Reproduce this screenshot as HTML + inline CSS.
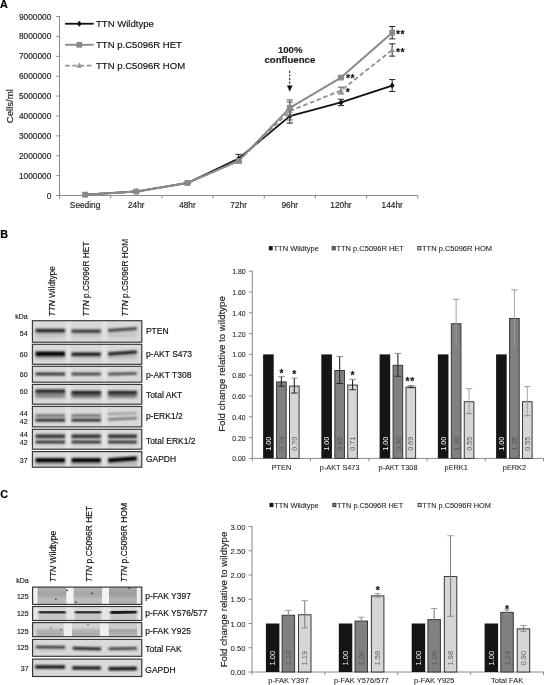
<!DOCTYPE html>
<html><head><meta charset="utf-8"><title>Figure</title>
<style>
html,body{margin:0;padding:0;background:#fff;}
body{width:544px;height:685px;overflow:hidden;}
svg{display:block;font-family:'Liberation Sans', Arial, sans-serif;}
</style></head><body>
<svg width="544" height="685" viewBox="0 0 544 685">
<rect x="0" y="0" width="544" height="685" fill="#fff"/>
<text x="0.00" y="7.80" font-size="10.8" text-anchor="start" fill="#000" stroke="#000" stroke-width="0.16" font-weight="bold">A</text>
<text x="0.30" y="237.60" font-size="10.8" text-anchor="start" fill="#000" stroke="#000" stroke-width="0.16" font-weight="bold">B</text>
<text x="0.30" y="498.40" font-size="10.8" text-anchor="start" fill="#000" stroke="#000" stroke-width="0.16" font-weight="bold">C</text>
<line x1="59.50" y1="16.08" x2="59.50" y2="195.50" stroke="#8a8a8a" stroke-width="1"/>
<line x1="59.50" y1="195.50" x2="417.76" y2="195.50" stroke="#8a8a8a" stroke-width="1"/>
<line x1="56.30" y1="195.50" x2="59.50" y2="195.50" stroke="#8a8a8a" stroke-width="1"/>
<text x="51.40" y="198.50" font-size="8.35" text-anchor="end" fill="#222" stroke="#222" stroke-width="0.16">0</text>
<line x1="56.30" y1="175.62" x2="59.50" y2="175.62" stroke="#8a8a8a" stroke-width="1"/>
<text x="51.40" y="178.62" font-size="8.35" text-anchor="end" fill="#222" stroke="#222" stroke-width="0.16">1000000</text>
<line x1="56.30" y1="155.74" x2="59.50" y2="155.74" stroke="#8a8a8a" stroke-width="1"/>
<text x="51.40" y="158.74" font-size="8.35" text-anchor="end" fill="#222" stroke="#222" stroke-width="0.16">2000000</text>
<line x1="56.30" y1="135.86" x2="59.50" y2="135.86" stroke="#8a8a8a" stroke-width="1"/>
<text x="51.40" y="138.86" font-size="8.35" text-anchor="end" fill="#222" stroke="#222" stroke-width="0.16">3000000</text>
<line x1="56.30" y1="115.98" x2="59.50" y2="115.98" stroke="#8a8a8a" stroke-width="1"/>
<text x="51.40" y="118.98" font-size="8.35" text-anchor="end" fill="#222" stroke="#222" stroke-width="0.16">4000000</text>
<line x1="56.30" y1="96.10" x2="59.50" y2="96.10" stroke="#8a8a8a" stroke-width="1"/>
<text x="51.40" y="99.10" font-size="8.35" text-anchor="end" fill="#222" stroke="#222" stroke-width="0.16">5000000</text>
<line x1="56.30" y1="76.22" x2="59.50" y2="76.22" stroke="#8a8a8a" stroke-width="1"/>
<text x="51.40" y="79.22" font-size="8.35" text-anchor="end" fill="#222" stroke="#222" stroke-width="0.16">6000000</text>
<line x1="56.30" y1="56.34" x2="59.50" y2="56.34" stroke="#8a8a8a" stroke-width="1"/>
<text x="51.40" y="59.34" font-size="8.35" text-anchor="end" fill="#222" stroke="#222" stroke-width="0.16">7000000</text>
<line x1="56.30" y1="36.46" x2="59.50" y2="36.46" stroke="#8a8a8a" stroke-width="1"/>
<text x="51.40" y="39.46" font-size="8.35" text-anchor="end" fill="#222" stroke="#222" stroke-width="0.16">8000000</text>
<line x1="56.30" y1="16.58" x2="59.50" y2="16.58" stroke="#8a8a8a" stroke-width="1"/>
<text x="51.40" y="19.58" font-size="8.35" text-anchor="end" fill="#222" stroke="#222" stroke-width="0.16">9000000</text>
<line x1="59.50" y1="195.50" x2="59.50" y2="198.50" stroke="#8a8a8a" stroke-width="1"/>
<line x1="110.68" y1="195.50" x2="110.68" y2="198.50" stroke="#8a8a8a" stroke-width="1"/>
<line x1="161.86" y1="195.50" x2="161.86" y2="198.50" stroke="#8a8a8a" stroke-width="1"/>
<line x1="213.04" y1="195.50" x2="213.04" y2="198.50" stroke="#8a8a8a" stroke-width="1"/>
<line x1="264.22" y1="195.50" x2="264.22" y2="198.50" stroke="#8a8a8a" stroke-width="1"/>
<line x1="315.40" y1="195.50" x2="315.40" y2="198.50" stroke="#8a8a8a" stroke-width="1"/>
<line x1="366.58" y1="195.50" x2="366.58" y2="198.50" stroke="#8a8a8a" stroke-width="1"/>
<line x1="417.76" y1="195.50" x2="417.76" y2="198.50" stroke="#8a8a8a" stroke-width="1"/>
<text x="85.09" y="208.40" font-size="8.3" text-anchor="middle" fill="#222" stroke="#222" stroke-width="0.16">Seeding</text>
<text x="136.27" y="208.40" font-size="8.3" text-anchor="middle" fill="#222" stroke="#222" stroke-width="0.16">24hr</text>
<text x="187.45" y="208.40" font-size="8.3" text-anchor="middle" fill="#222" stroke="#222" stroke-width="0.16">48hr</text>
<text x="238.63" y="208.40" font-size="8.3" text-anchor="middle" fill="#222" stroke="#222" stroke-width="0.16">72hr</text>
<text x="289.81" y="208.40" font-size="8.3" text-anchor="middle" fill="#222" stroke="#222" stroke-width="0.16">96hr</text>
<text x="340.99" y="208.40" font-size="8.3" text-anchor="middle" fill="#222" stroke="#222" stroke-width="0.16">120hr</text>
<text x="392.17" y="208.40" font-size="8.3" text-anchor="middle" fill="#222" stroke="#222" stroke-width="0.16">144hr</text>
<text x="13.20" y="106.20" font-size="9.6" text-anchor="middle" fill="#222" stroke="#222" stroke-width="0.16" transform="rotate(-90 13.20 106.20)">Cells/ml</text>
<polyline points="85.09,194.70 136.27,191.52 187.45,182.98 238.63,158.52 289.81,116.18 340.99,102.46 392.17,85.56" fill="none" stroke="#111" stroke-width="1.8" stroke-linejoin="round"/>
<polygon points="85.09,191.70 87.59,194.70 85.09,197.70 82.59,194.70" fill="#111"/>
<line x1="136.27" y1="190.93" x2="136.27" y2="192.12" stroke="#222" stroke-width="1"/>
<line x1="133.17" y1="190.93" x2="139.37" y2="190.93" stroke="#222" stroke-width="1"/>
<line x1="133.17" y1="192.12" x2="139.37" y2="192.12" stroke="#222" stroke-width="1"/>
<polygon points="136.27,188.52 138.77,191.52 136.27,194.52 133.77,191.52" fill="#111"/>
<line x1="187.45" y1="182.38" x2="187.45" y2="183.57" stroke="#222" stroke-width="1"/>
<line x1="184.35" y1="182.38" x2="190.55" y2="182.38" stroke="#222" stroke-width="1"/>
<line x1="184.35" y1="183.57" x2="190.55" y2="183.57" stroke="#222" stroke-width="1"/>
<polygon points="187.45,179.98 189.95,182.98 187.45,185.98 184.95,182.98" fill="#111"/>
<line x1="238.63" y1="154.35" x2="238.63" y2="162.70" stroke="#222" stroke-width="1"/>
<line x1="235.53" y1="154.35" x2="241.73" y2="154.35" stroke="#222" stroke-width="1"/>
<line x1="235.53" y1="162.70" x2="241.73" y2="162.70" stroke="#222" stroke-width="1"/>
<polygon points="238.63,155.52 241.13,158.52 238.63,161.52 236.13,158.52" fill="#111"/>
<line x1="289.81" y1="109.22" x2="289.81" y2="123.14" stroke="#222" stroke-width="1"/>
<line x1="286.71" y1="109.22" x2="292.91" y2="109.22" stroke="#222" stroke-width="1"/>
<line x1="286.71" y1="123.14" x2="292.91" y2="123.14" stroke="#222" stroke-width="1"/>
<polygon points="289.81,113.18 292.31,116.18 289.81,119.18 287.31,116.18" fill="#111"/>
<line x1="340.99" y1="99.28" x2="340.99" y2="105.64" stroke="#222" stroke-width="1"/>
<line x1="337.89" y1="99.28" x2="344.09" y2="99.28" stroke="#222" stroke-width="1"/>
<line x1="337.89" y1="105.64" x2="344.09" y2="105.64" stroke="#222" stroke-width="1"/>
<polygon points="340.99,99.46 343.49,102.46 340.99,105.46 338.49,102.46" fill="#111"/>
<line x1="392.17" y1="79.60" x2="392.17" y2="91.53" stroke="#222" stroke-width="1"/>
<line x1="389.07" y1="79.60" x2="395.27" y2="79.60" stroke="#222" stroke-width="1"/>
<line x1="389.07" y1="91.53" x2="395.27" y2="91.53" stroke="#222" stroke-width="1"/>
<polygon points="392.17,82.56 394.67,85.56 392.17,88.56 389.67,85.56" fill="#111"/>
<polyline points="85.09,194.70 136.27,191.52 187.45,182.98 238.63,160.91 289.81,111.01 340.99,90.53 392.17,49.98" fill="none" stroke="#939393" stroke-width="1.9" stroke-linejoin="round" stroke-dasharray="4.6,2.6"/>
<polygon points="85.09,191.58 87.89,196.78 82.29,196.78" fill="#939393"/>
<line x1="136.27" y1="190.93" x2="136.27" y2="192.12" stroke="#555" stroke-width="1"/>
<line x1="133.17" y1="190.93" x2="139.37" y2="190.93" stroke="#555" stroke-width="1"/>
<line x1="133.17" y1="192.12" x2="139.37" y2="192.12" stroke="#555" stroke-width="1"/>
<polygon points="136.27,188.40 139.07,193.60 133.47,193.60" fill="#939393"/>
<line x1="187.45" y1="182.38" x2="187.45" y2="183.57" stroke="#555" stroke-width="1"/>
<line x1="184.35" y1="182.38" x2="190.55" y2="182.38" stroke="#555" stroke-width="1"/>
<line x1="184.35" y1="183.57" x2="190.55" y2="183.57" stroke="#555" stroke-width="1"/>
<polygon points="187.45,179.86 190.25,185.06 184.65,185.06" fill="#939393"/>
<line x1="238.63" y1="159.91" x2="238.63" y2="161.90" stroke="#555" stroke-width="1"/>
<line x1="235.53" y1="159.91" x2="241.73" y2="159.91" stroke="#555" stroke-width="1"/>
<line x1="235.53" y1="161.90" x2="241.73" y2="161.90" stroke="#555" stroke-width="1"/>
<polygon points="238.63,157.79 241.43,162.99 235.83,162.99" fill="#939393"/>
<line x1="289.81" y1="102.06" x2="289.81" y2="119.96" stroke="#555" stroke-width="1"/>
<line x1="286.71" y1="102.06" x2="292.91" y2="102.06" stroke="#555" stroke-width="1"/>
<line x1="286.71" y1="119.96" x2="292.91" y2="119.96" stroke="#555" stroke-width="1"/>
<polygon points="289.81,107.89 292.61,113.09 287.01,113.09" fill="#939393"/>
<line x1="340.99" y1="87.15" x2="340.99" y2="93.91" stroke="#555" stroke-width="1"/>
<line x1="337.89" y1="87.15" x2="344.09" y2="87.15" stroke="#555" stroke-width="1"/>
<line x1="337.89" y1="93.91" x2="344.09" y2="93.91" stroke="#555" stroke-width="1"/>
<polygon points="340.99,87.41 343.79,92.61 338.19,92.61" fill="#939393"/>
<line x1="392.17" y1="43.82" x2="392.17" y2="56.14" stroke="#222" stroke-width="1"/>
<line x1="389.07" y1="43.82" x2="395.27" y2="43.82" stroke="#222" stroke-width="1"/>
<line x1="389.07" y1="56.14" x2="395.27" y2="56.14" stroke="#222" stroke-width="1"/>
<polygon points="392.17,46.86 394.97,52.06 389.37,52.06" fill="#939393"/>
<polyline points="85.09,194.70 136.27,191.52 187.45,182.98 238.63,160.91 289.81,107.83 340.99,77.61 392.17,32.68" fill="none" stroke="#8a8a8a" stroke-width="2.0" stroke-linejoin="round"/>
<rect x="82.19" y="191.80" width="5.80" height="5.80" fill="#8a8a8a"/>
<line x1="136.27" y1="190.93" x2="136.27" y2="192.12" stroke="#666" stroke-width="1"/>
<line x1="133.17" y1="190.93" x2="139.37" y2="190.93" stroke="#666" stroke-width="1"/>
<line x1="133.17" y1="192.12" x2="139.37" y2="192.12" stroke="#666" stroke-width="1"/>
<rect x="133.37" y="188.62" width="5.80" height="5.80" fill="#8a8a8a"/>
<line x1="187.45" y1="182.38" x2="187.45" y2="183.57" stroke="#666" stroke-width="1"/>
<line x1="184.35" y1="182.38" x2="190.55" y2="182.38" stroke="#666" stroke-width="1"/>
<line x1="184.35" y1="183.57" x2="190.55" y2="183.57" stroke="#666" stroke-width="1"/>
<rect x="184.55" y="180.08" width="5.80" height="5.80" fill="#8a8a8a"/>
<line x1="238.63" y1="159.91" x2="238.63" y2="161.90" stroke="#666" stroke-width="1"/>
<line x1="235.53" y1="159.91" x2="241.73" y2="159.91" stroke="#666" stroke-width="1"/>
<line x1="235.53" y1="161.90" x2="241.73" y2="161.90" stroke="#666" stroke-width="1"/>
<rect x="235.73" y="158.01" width="5.80" height="5.80" fill="#8a8a8a"/>
<line x1="289.81" y1="99.88" x2="289.81" y2="115.78" stroke="#666" stroke-width="1"/>
<line x1="286.71" y1="99.88" x2="292.91" y2="99.88" stroke="#666" stroke-width="1"/>
<line x1="286.71" y1="115.78" x2="292.91" y2="115.78" stroke="#666" stroke-width="1"/>
<rect x="286.91" y="104.93" width="5.80" height="5.80" fill="#8a8a8a"/>
<line x1="340.99" y1="76.62" x2="340.99" y2="78.61" stroke="#666" stroke-width="1"/>
<line x1="337.89" y1="76.62" x2="344.09" y2="76.62" stroke="#666" stroke-width="1"/>
<line x1="337.89" y1="78.61" x2="344.09" y2="78.61" stroke="#666" stroke-width="1"/>
<rect x="338.09" y="74.71" width="5.80" height="5.80" fill="#8a8a8a"/>
<line x1="392.17" y1="26.52" x2="392.17" y2="38.85" stroke="#222" stroke-width="1"/>
<line x1="389.07" y1="26.52" x2="395.27" y2="26.52" stroke="#222" stroke-width="1"/>
<line x1="389.07" y1="38.85" x2="395.27" y2="38.85" stroke="#222" stroke-width="1"/>
<rect x="389.27" y="29.78" width="5.80" height="5.80" fill="#8a8a8a"/>
<text x="395.90" y="38.00" font-size="10.3" text-anchor="start" fill="#111" stroke="#111" stroke-width="0.16" font-weight="bold" letter-spacing="0.6">**</text>
<text x="395.90" y="56.20" font-size="10.3" text-anchor="start" fill="#111" stroke="#111" stroke-width="0.16" font-weight="bold" letter-spacing="0.6">**</text>
<text x="346.00" y="82.30" font-size="10.3" text-anchor="start" fill="#111" stroke="#111" stroke-width="0.16" font-weight="bold" letter-spacing="0.6">**</text>
<text x="345.70" y="95.90" font-size="10.3" text-anchor="start" fill="#111" stroke="#111" stroke-width="0.16" font-weight="bold" letter-spacing="0.6">*</text>
<line x1="65.10" y1="23.75" x2="93.70" y2="23.75" stroke="#111" stroke-width="1.8"/>
<polygon points="79.30,20.75 81.80,23.75 79.30,26.75 76.80,23.75" fill="#111"/>
<line x1="65.10" y1="44.80" x2="93.70" y2="44.80" stroke="#8a8a8a" stroke-width="1.9"/>
<rect x="76.40" y="41.90" width="5.80" height="5.80" fill="#8a8a8a"/>
<line x1="65.10" y1="65.60" x2="93.70" y2="65.60" stroke="#939393" stroke-width="1.9" stroke-dasharray="4.6,2.6"/>
<polygon points="79.30,62.48 82.10,67.68 76.50,67.68" fill="#939393"/>
<text x="96.00" y="27.20" font-size="9.55" text-anchor="start" fill="#111" stroke="#111" stroke-width="0.16">TTN Wildtype</text>
<text x="96.00" y="48.30" font-size="9.55" text-anchor="start" fill="#111" stroke="#111" stroke-width="0.16">TTN p.C5096R HET</text>
<text x="96.00" y="69.10" font-size="9.55" text-anchor="start" fill="#111" stroke="#111" stroke-width="0.16">TTN p.C5096R HOM</text>
<text x="290.20" y="52.70" font-size="9.65" text-anchor="middle" fill="#222" stroke="#222" stroke-width="0.16" font-weight="bold">100%</text>
<text x="289.90" y="62.70" font-size="9.65" text-anchor="middle" fill="#222" stroke="#222" stroke-width="0.16" font-weight="bold">confluence</text>
<line x1="289.70" y1="70.80" x2="289.70" y2="86.00" stroke="#222" stroke-width="1.1" stroke-dasharray="2.2,1.4"/>
<polygon points="286.9,85.6 292.6,85.6 289.75,91.8" fill="#111"/>
<defs><filter id="bl3" filterUnits="userSpaceOnUse" x="0" y="0" width="544" height="685"><feGaussianBlur stdDeviation="0.3"/></filter><filter id="bl4" filterUnits="userSpaceOnUse" x="0" y="0" width="544" height="685"><feGaussianBlur stdDeviation="0.4"/></filter><filter id="bl5" filterUnits="userSpaceOnUse" x="0" y="0" width="544" height="685"><feGaussianBlur stdDeviation="0.5"/></filter><filter id="bl6" filterUnits="userSpaceOnUse" x="0" y="0" width="544" height="685"><feGaussianBlur stdDeviation="0.6"/></filter><filter id="bl7" filterUnits="userSpaceOnUse" x="0" y="0" width="544" height="685"><feGaussianBlur stdDeviation="0.7"/></filter><filter id="bl8" filterUnits="userSpaceOnUse" x="0" y="0" width="544" height="685"><feGaussianBlur stdDeviation="0.8"/></filter><filter id="bl9" filterUnits="userSpaceOnUse" x="0" y="0" width="544" height="685"><feGaussianBlur stdDeviation="0.9"/></filter><filter id="bl10" filterUnits="userSpaceOnUse" x="0" y="0" width="544" height="685"><feGaussianBlur stdDeviation="1.0"/></filter><filter id="bl12" filterUnits="userSpaceOnUse" x="0" y="0" width="544" height="685"><feGaussianBlur stdDeviation="1.2"/></filter><filter id="bl15" filterUnits="userSpaceOnUse" x="0" y="0" width="544" height="685"><feGaussianBlur stdDeviation="1.5"/></filter><filter id="bl20" filterUnits="userSpaceOnUse" x="0" y="0" width="544" height="685"><feGaussianBlur stdDeviation="2.0"/></filter><filter id="bh3" filterUnits="userSpaceOnUse" x="0" y="0" width="544" height="685"><feGaussianBlur stdDeviation="1.1 0.3"/></filter><filter id="bh4" filterUnits="userSpaceOnUse" x="0" y="0" width="544" height="685"><feGaussianBlur stdDeviation="1.1 0.4"/></filter><filter id="bh5" filterUnits="userSpaceOnUse" x="0" y="0" width="544" height="685"><feGaussianBlur stdDeviation="1.1 0.5"/></filter><filter id="bh6" filterUnits="userSpaceOnUse" x="0" y="0" width="544" height="685"><feGaussianBlur stdDeviation="1.1 0.6"/></filter><filter id="bh7" filterUnits="userSpaceOnUse" x="0" y="0" width="544" height="685"><feGaussianBlur stdDeviation="1.1 0.7"/></filter><filter id="bh8" filterUnits="userSpaceOnUse" x="0" y="0" width="544" height="685"><feGaussianBlur stdDeviation="1.1 0.8"/></filter><filter id="bh9" filterUnits="userSpaceOnUse" x="0" y="0" width="544" height="685"><feGaussianBlur stdDeviation="1.1 0.9"/></filter><filter id="bh10" filterUnits="userSpaceOnUse" x="0" y="0" width="544" height="685"><feGaussianBlur stdDeviation="1.1 1.0"/></filter><filter id="bh12" filterUnits="userSpaceOnUse" x="0" y="0" width="544" height="685"><feGaussianBlur stdDeviation="1.2 1.2"/></filter><filter id="bh15" filterUnits="userSpaceOnUse" x="0" y="0" width="544" height="685"><feGaussianBlur stdDeviation="1.5 1.5"/></filter><filter id="bh20" filterUnits="userSpaceOnUse" x="0" y="0" width="544" height="685"><feGaussianBlur stdDeviation="2.0 2.0"/></filter></defs>
<rect x="32.40" y="320.70" width="109.40" height="21.50" fill="#d9d9d9"/>
<rect x="66.00" y="320.70" width="5.00" height="21.50" fill="#e2e2e2"/>
<rect x="102.00" y="320.70" width="5.00" height="21.50" fill="#e2e2e2"/>
<line x1="35.60" y1="334.50" x2="65.00" y2="334.50" stroke="#b8b8b8" stroke-width="5" stroke-linecap="butt" opacity="1" filter="url(#bh20)"/>
<line x1="71.60" y1="334.50" x2="100.80" y2="334.50" stroke="#c0c0c0" stroke-width="5" stroke-linecap="butt" opacity="1" filter="url(#bh20)"/>
<line x1="108.20" y1="334.50" x2="136.80" y2="334.50" stroke="#bebebe" stroke-width="5" stroke-linecap="butt" opacity="1" filter="url(#bh20)"/>
<line x1="35.60" y1="330.60" x2="65.00" y2="330.60" stroke="#1e1e1e" stroke-width="3.4" stroke-linecap="butt" opacity="1" filter="url(#bh9)"/>
<line x1="71.60" y1="331.20" x2="100.80" y2="331.20" stroke="#3a3a3a" stroke-width="3.4" stroke-linecap="butt" opacity="1" filter="url(#bh9)"/>
<line x1="108.20" y1="330.50" x2="136.80" y2="328.50" stroke="#3e3e3e" stroke-width="2.8" stroke-linecap="butt" opacity="1" filter="url(#bh9)"/>
<rect x="32.40" y="320.70" width="109.40" height="21.50" fill="none" stroke="#333333" stroke-width="1.15"/>
<rect x="32.40" y="344.30" width="109.40" height="20.00" fill="#d9d9d9"/>
<rect x="66.00" y="344.30" width="5.00" height="20.00" fill="#e2e2e2"/>
<rect x="102.00" y="344.30" width="5.00" height="20.00" fill="#e2e2e2"/>
<line x1="35.60" y1="357.00" x2="65.00" y2="357.00" stroke="#a8a8a8" stroke-width="4" stroke-linecap="butt" opacity="1" filter="url(#bh15)"/>
<line x1="71.60" y1="357.00" x2="100.80" y2="357.00" stroke="#bcbcbc" stroke-width="4" stroke-linecap="butt" opacity="1" filter="url(#bh15)"/>
<line x1="108.20" y1="357.00" x2="136.80" y2="357.00" stroke="#bcbcbc" stroke-width="4" stroke-linecap="butt" opacity="1" filter="url(#bh15)"/>
<line x1="35.60" y1="353.80" x2="65.00" y2="353.80" stroke="#060606" stroke-width="4.6" stroke-linecap="butt" opacity="1" filter="url(#bh8)"/>
<line x1="71.60" y1="354.20" x2="100.80" y2="354.20" stroke="#1e1e1e" stroke-width="3.6" stroke-linecap="butt" opacity="1" filter="url(#bh8)"/>
<line x1="108.20" y1="354.00" x2="136.80" y2="351.90" stroke="#242424" stroke-width="3.5" stroke-linecap="butt" opacity="1" filter="url(#bh8)"/>
<rect x="32.40" y="344.30" width="109.40" height="20.00" fill="none" stroke="#333333" stroke-width="1.15"/>
<rect x="32.40" y="366.30" width="109.40" height="15.90" fill="#d9d9d9"/>
<rect x="66.00" y="366.30" width="5.00" height="15.90" fill="#e2e2e2"/>
<rect x="102.00" y="366.30" width="5.00" height="15.90" fill="#e2e2e2"/>
<line x1="35.60" y1="374.00" x2="65.00" y2="374.00" stroke="#282828" stroke-width="2.8" stroke-linecap="butt" opacity="1" filter="url(#bh8)"/>
<line x1="71.60" y1="374.00" x2="100.80" y2="374.00" stroke="#404040" stroke-width="2.8" stroke-linecap="butt" opacity="1" filter="url(#bh8)"/>
<line x1="108.20" y1="374.10" x2="136.80" y2="373.50" stroke="#424242" stroke-width="2.6" stroke-linecap="butt" opacity="1" filter="url(#bh8)"/>
<rect x="32.40" y="366.30" width="109.40" height="15.90" fill="none" stroke="#333333" stroke-width="1.15"/>
<rect x="32.40" y="384.40" width="109.40" height="19.80" fill="#d9d9d9"/>
<rect x="66.00" y="384.40" width="5.00" height="19.80" fill="#e2e2e2"/>
<rect x="102.00" y="384.40" width="5.00" height="19.80" fill="#e2e2e2"/>
<line x1="35.60" y1="395.00" x2="65.00" y2="395.00" stroke="#808080" stroke-width="5.5" stroke-linecap="butt" opacity="1" filter="url(#bh15)"/>
<line x1="71.60" y1="395.00" x2="100.80" y2="395.00" stroke="#6a6a6a" stroke-width="5.5" stroke-linecap="butt" opacity="1" filter="url(#bh15)"/>
<line x1="108.20" y1="395.00" x2="136.80" y2="395.00" stroke="#707070" stroke-width="5.5" stroke-linecap="butt" opacity="1" filter="url(#bh15)"/>
<line x1="35.60" y1="391.20" x2="65.00" y2="391.20" stroke="#1c1c1c" stroke-width="3.4" stroke-linecap="butt" opacity="1" filter="url(#bh9)"/>
<line x1="71.60" y1="392.60" x2="100.80" y2="392.60" stroke="#222222" stroke-width="3.4" stroke-linecap="butt" opacity="1" filter="url(#bh9)"/>
<line x1="108.20" y1="392.60" x2="136.80" y2="392.60" stroke="#262626" stroke-width="3.4" stroke-linecap="butt" opacity="1" filter="url(#bh9)"/>
<rect x="32.40" y="384.40" width="109.40" height="19.80" fill="none" stroke="#333333" stroke-width="1.15"/>
<rect x="32.40" y="406.40" width="109.40" height="20.50" fill="#d9d9d9"/>
<rect x="66.00" y="406.40" width="5.00" height="20.50" fill="#e2e2e2"/>
<rect x="102.00" y="406.40" width="5.00" height="20.50" fill="#e2e2e2"/>
<line x1="35.60" y1="415.60" x2="65.00" y2="415.60" stroke="#5a5a5a" stroke-width="2.2" stroke-linecap="butt" opacity="1" filter="url(#bh8)"/>
<line x1="71.60" y1="415.60" x2="100.80" y2="415.60" stroke="#5a5a5a" stroke-width="2.2" stroke-linecap="butt" opacity="1" filter="url(#bh8)"/>
<line x1="35.60" y1="420.10" x2="65.00" y2="420.10" stroke="#1a1a1a" stroke-width="2.8" stroke-linecap="butt" opacity="1" filter="url(#bh8)"/>
<line x1="71.60" y1="420.10" x2="100.80" y2="420.10" stroke="#222222" stroke-width="2.8" stroke-linecap="butt" opacity="1" filter="url(#bh8)"/>
<line x1="108.20" y1="414.00" x2="136.80" y2="413.20" stroke="#8e8e8e" stroke-width="1.8" stroke-linecap="butt" opacity="1" filter="url(#bh8)"/>
<line x1="108.20" y1="419.30" x2="136.80" y2="418.20" stroke="#6a6a6a" stroke-width="2.2" stroke-linecap="butt" opacity="1" filter="url(#bh8)"/>
<rect x="32.40" y="406.40" width="109.40" height="20.50" fill="none" stroke="#333333" stroke-width="1.15"/>
<rect x="32.40" y="429.30" width="109.40" height="19.90" fill="#d9d9d9"/>
<rect x="66.00" y="429.30" width="5.00" height="19.90" fill="#e2e2e2"/>
<rect x="102.00" y="429.30" width="5.00" height="19.90" fill="#e2e2e2"/>
<line x1="35.60" y1="436.30" x2="65.00" y2="436.30" stroke="#333333" stroke-width="3.8" stroke-linecap="butt" opacity="1" filter="url(#bh9)"/>
<line x1="71.60" y1="436.30" x2="100.80" y2="436.30" stroke="#303030" stroke-width="3.8" stroke-linecap="butt" opacity="1" filter="url(#bh9)"/>
<line x1="108.20" y1="436.30" x2="136.80" y2="436.30" stroke="#2e2e2e" stroke-width="3.8" stroke-linecap="butt" opacity="1" filter="url(#bh9)"/>
<line x1="35.60" y1="442.00" x2="65.00" y2="442.00" stroke="#333333" stroke-width="3.0" stroke-linecap="butt" opacity="1" filter="url(#bh8)"/>
<line x1="71.60" y1="442.00" x2="100.80" y2="442.00" stroke="#333333" stroke-width="3.0" stroke-linecap="butt" opacity="1" filter="url(#bh8)"/>
<line x1="108.20" y1="442.00" x2="136.80" y2="442.00" stroke="#303030" stroke-width="3.0" stroke-linecap="butt" opacity="1" filter="url(#bh8)"/>
<rect x="32.40" y="429.30" width="109.40" height="19.90" fill="none" stroke="#333333" stroke-width="1.15"/>
<rect x="32.40" y="451.60" width="109.40" height="15.60" fill="#d9d9d9"/>
<rect x="66.00" y="451.60" width="5.00" height="15.60" fill="#e0e0e0"/>
<rect x="102.00" y="451.60" width="5.00" height="15.60" fill="#e0e0e0"/>
<line x1="35.60" y1="463.50" x2="65.00" y2="463.50" stroke="#a0a0a0" stroke-width="3.0" stroke-linecap="butt" opacity="1" filter="url(#bh15)"/>
<line x1="71.60" y1="463.50" x2="100.80" y2="463.50" stroke="#a0a0a0" stroke-width="3.0" stroke-linecap="butt" opacity="1" filter="url(#bh15)"/>
<line x1="108.20" y1="463.50" x2="136.80" y2="463.50" stroke="#a8a8a8" stroke-width="3.0" stroke-linecap="butt" opacity="1" filter="url(#bh15)"/>
<line x1="35.60" y1="460.20" x2="65.00" y2="460.20" stroke="#060606" stroke-width="4.3" stroke-linecap="butt" opacity="1" filter="url(#bh8)"/>
<line x1="71.60" y1="460.20" x2="100.80" y2="460.20" stroke="#060606" stroke-width="4.3" stroke-linecap="butt" opacity="1" filter="url(#bh8)"/>
<line x1="108.20" y1="460.40" x2="136.80" y2="458.40" stroke="#040404" stroke-width="4.3" stroke-linecap="butt" opacity="1" filter="url(#bh8)"/>
<rect x="32.40" y="451.60" width="109.40" height="15.60" fill="none" stroke="#333333" stroke-width="1.15"/>
<text x="27.60" y="318.80" font-size="7.0" text-anchor="end" fill="#222" stroke="#222" stroke-width="0.16">kDa</text>
<text x="27.60" y="335.70" font-size="7.0" text-anchor="end" fill="#222" stroke="#222" stroke-width="0.16">54</text>
<text x="27.60" y="356.90" font-size="7.0" text-anchor="end" fill="#222" stroke="#222" stroke-width="0.16">60</text>
<text x="27.60" y="376.80" font-size="7.0" text-anchor="end" fill="#222" stroke="#222" stroke-width="0.16">60</text>
<text x="27.60" y="394.30" font-size="7.0" text-anchor="end" fill="#222" stroke="#222" stroke-width="0.16">60</text>
<text x="27.60" y="415.90" font-size="7.0" text-anchor="end" fill="#222" stroke="#222" stroke-width="0.16">44</text>
<text x="27.60" y="424.40" font-size="7.0" text-anchor="end" fill="#222" stroke="#222" stroke-width="0.16">42</text>
<text x="27.60" y="437.10" font-size="7.0" text-anchor="end" fill="#222" stroke="#222" stroke-width="0.16">44</text>
<text x="27.60" y="445.00" font-size="7.0" text-anchor="end" fill="#222" stroke="#222" stroke-width="0.16">42</text>
<text x="27.60" y="463.00" font-size="7.0" text-anchor="end" fill="#222" stroke="#222" stroke-width="0.16">37</text>
<text x="145.90" y="333.80" font-size="8.5" text-anchor="start" fill="#111" stroke="#111" stroke-width="0.16">PTEN</text>
<text x="145.90" y="356.90" font-size="8.5" text-anchor="start" fill="#111" stroke="#111" stroke-width="0.16">p-AKT S473</text>
<text x="145.90" y="378.20" font-size="8.5" text-anchor="start" fill="#111" stroke="#111" stroke-width="0.16">p-AKT T308</text>
<text x="145.90" y="397.60" font-size="8.5" text-anchor="start" fill="#111" stroke="#111" stroke-width="0.16">Total AKT</text>
<text x="145.90" y="419.00" font-size="8.5" text-anchor="start" fill="#111" stroke="#111" stroke-width="0.16">p-ERK1/2</text>
<text x="145.90" y="443.60" font-size="8.5" text-anchor="start" fill="#111" stroke="#111" stroke-width="0.16">Total ERK1/2</text>
<text x="145.90" y="461.70" font-size="8.5" text-anchor="start" fill="#111" stroke="#111" stroke-width="0.16">GAPDH</text>
<text x="55.20" y="316.40" font-size="8.3" fill="#111" stroke="#111" stroke-width="0.16" transform="rotate(-90 55.20 316.40)"><tspan font-style="italic">TTN</tspan> Wildtype</text>
<text x="88.70" y="316.40" font-size="8.3" fill="#111" stroke="#111" stroke-width="0.16" transform="rotate(-90 88.70 316.40)"><tspan font-style="italic">TTN</tspan> p.C5096R HET</text>
<text x="127.80" y="316.40" font-size="8.3" fill="#111" stroke="#111" stroke-width="0.16" transform="rotate(-90 127.80 316.40)"><tspan font-style="italic">TTN</tspan> p.C5096R HOM</text>
<rect x="32.60" y="587.10" width="109.20" height="17.30" fill="#b6b6b6"/>
<defs><linearGradient id="g225" x1="0" y1="0" x2="0" y2="1"><stop offset="0" stop-color="#b0b0b0"/><stop offset="0.42" stop-color="#a2a2a2"/><stop offset="0.7" stop-color="#bababa"/><stop offset="1" stop-color="#bababa"/></linearGradient></defs>
<rect x="37.50" y="587.10" width="28.90" height="17.30" fill="url(#g225)"/>
<defs><linearGradient id="g227" x1="0" y1="0" x2="0" y2="1"><stop offset="0" stop-color="#b2b2b2"/><stop offset="0.42" stop-color="#a6a6a6"/><stop offset="0.7" stop-color="#bcbcbc"/><stop offset="1" stop-color="#bcbcbc"/></linearGradient></defs>
<rect x="73.60" y="587.10" width="28.50" height="17.30" fill="url(#g227)"/>
<defs><linearGradient id="g229" x1="0" y1="0" x2="0" y2="1"><stop offset="0" stop-color="#aaaaaa"/><stop offset="0.42" stop-color="#9c9c9c"/><stop offset="0.7" stop-color="#b2b2b2"/><stop offset="1" stop-color="#b2b2b2"/></linearGradient></defs>
<rect x="109.00" y="587.10" width="27.80" height="17.30" fill="url(#g229)"/>
<rect x="32.80" y="587.10" width="4.70" height="17.30" fill="#f0f0f0"/>
<rect x="66.40" y="587.10" width="7.20" height="17.30" fill="#f3f3f3"/>
<rect x="102.10" y="587.10" width="6.90" height="17.30" fill="#f3f3f3"/>
<rect x="136.80" y="587.10" width="3.90" height="17.30" fill="#eeeeee"/>
<circle cx="55.90" cy="599.20" r="0.8" fill="#222" filter="url(#bl4)"/>
<circle cx="67.00" cy="590.40" r="0.8" fill="#222" filter="url(#bl4)"/>
<circle cx="75.80" cy="602.20" r="0.8" fill="#222" filter="url(#bl4)"/>
<circle cx="92.20" cy="593.40" r="0.8" fill="#222" filter="url(#bl4)"/>
<circle cx="129.10" cy="588.20" r="0.8" fill="#222" filter="url(#bl4)"/>
<rect x="32.60" y="587.10" width="109.20" height="17.30" fill="none" stroke="#333333" stroke-width="1.15"/>
<rect x="32.60" y="606.50" width="109.20" height="14.00" fill="#d8d8d8"/>
<rect x="32.80" y="606.50" width="5.40" height="14.00" fill="#e8e8e8"/>
<rect x="66.20" y="606.50" width="8.40" height="14.00" fill="#e6e6e6"/>
<rect x="101.40" y="606.50" width="8.80" height="14.00" fill="#e6e6e6"/>
<rect x="136.80" y="606.50" width="3.90" height="14.00" fill="#eaeaea"/>
<rect x="38.80" y="613.6" width="27.00" height="6.4" fill="#c4c4c4" filter="url(#bl8)"/>
<rect x="75.00" y="613.6" width="26.00" height="6.4" fill="#c4c4c4" filter="url(#bl8)"/>
<rect x="110.40" y="613.6" width="26.40" height="6.4" fill="#c4c4c4" filter="url(#bl8)"/>
<line x1="38.80" y1="612.30" x2="65.80" y2="612.30" stroke="#2e2e2e" stroke-width="2.4" stroke-linecap="butt" opacity="1" filter="url(#bh6)"/>
<line x1="75.00" y1="612.30" x2="101.00" y2="612.30" stroke="#333333" stroke-width="2.4" stroke-linecap="butt" opacity="1" filter="url(#bh6)"/>
<line x1="110.40" y1="612.50" x2="136.80" y2="612.10" stroke="#1c1c1c" stroke-width="2.8" stroke-linecap="butt" opacity="1" filter="url(#bh6)"/>
<rect x="32.60" y="606.50" width="109.20" height="14.00" fill="none" stroke="#333333" stroke-width="1.15"/>
<rect x="32.60" y="622.60" width="109.20" height="14.10" fill="#d2d2d2"/>
<defs><linearGradient id="g254" x1="0" y1="0" x2="0" y2="1"><stop offset="0" stop-color="#d6d6d6"/><stop offset="0.38" stop-color="#d0d0d0"/><stop offset="0.52" stop-color="#b4b4b4"/><stop offset="1" stop-color="#acacac"/></linearGradient></defs>
<rect x="36.60" y="622.60" width="27.20" height="14.10" fill="url(#g254)"/>
<defs><linearGradient id="g256" x1="0" y1="0" x2="0" y2="1"><stop offset="0" stop-color="#d6d6d6"/><stop offset="0.38" stop-color="#d0d0d0"/><stop offset="0.52" stop-color="#b4b4b4"/><stop offset="1" stop-color="#acacac"/></linearGradient></defs>
<rect x="71.90" y="622.60" width="28.00" height="14.10" fill="url(#g256)"/>
<defs><linearGradient id="g258" x1="0" y1="0" x2="0" y2="1"><stop offset="0" stop-color="#cecece"/><stop offset="0.4" stop-color="#c8c8c8"/><stop offset="0.55" stop-color="#a0a0a0"/><stop offset="0.75" stop-color="#b0b0b0"/><stop offset="1" stop-color="#b4b4b4"/></linearGradient></defs>
<rect x="108.70" y="622.60" width="28.30" height="14.10" fill="url(#g258)"/>
<rect x="63.80" y="622.60" width="8.10" height="14.10" fill="#eeeeee"/>
<rect x="99.90" y="622.60" width="8.80" height="14.10" fill="#eeeeee"/>
<rect x="137.00" y="622.60" width="3.70" height="14.10" fill="#dedede"/>
<circle cx="51.00" cy="627.90" r="0.7" fill="#444" filter="url(#bl4)"/>
<circle cx="61.20" cy="629.40" r="0.7" fill="#444" filter="url(#bl4)"/>
<circle cx="88.00" cy="624.50" r="0.7" fill="#444" filter="url(#bl4)"/>
<rect x="32.60" y="622.60" width="109.20" height="14.10" fill="none" stroke="#333333" stroke-width="1.15"/>
<rect x="32.60" y="639.40" width="109.20" height="16.90" fill="#d9d9d9"/>
<line x1="38.80" y1="650.00" x2="65.80" y2="650.00" stroke="#c8c8c8" stroke-width="2.5" stroke-linecap="butt" opacity="1" filter="url(#bh12)"/>
<line x1="75.00" y1="650.00" x2="101.00" y2="650.00" stroke="#c4c4c4" stroke-width="2.5" stroke-linecap="butt" opacity="1" filter="url(#bh12)"/>
<line x1="110.40" y1="650.00" x2="136.80" y2="650.00" stroke="#c8c8c8" stroke-width="2.5" stroke-linecap="butt" opacity="1" filter="url(#bh12)"/>
<line x1="35.80" y1="647.10" x2="65.00" y2="647.20" stroke="#2a2a2a" stroke-width="2.5" stroke-linecap="butt" opacity="1" filter="url(#bh8)"/>
<line x1="72.80" y1="648.10" x2="101.00" y2="648.90" stroke="#1a1a1a" stroke-width="2.8" stroke-linecap="butt" opacity="1" filter="url(#bh8)"/>
<line x1="108.60" y1="648.80" x2="136.80" y2="648.30" stroke="#353535" stroke-width="2.5" stroke-linecap="butt" opacity="1" filter="url(#bh8)"/>
<rect x="32.60" y="639.40" width="109.20" height="16.90" fill="none" stroke="#333333" stroke-width="1.15"/>
<rect x="32.60" y="659.10" width="109.20" height="17.40" fill="#d9d9d9"/>
<line x1="35.20" y1="666.90" x2="65.00" y2="667.00" stroke="#0c0c0c" stroke-width="3.3" stroke-linecap="butt" opacity="1" filter="url(#bh8)"/>
<line x1="72.30" y1="667.80" x2="100.80" y2="668.20" stroke="#0c0c0c" stroke-width="3.3" stroke-linecap="butt" opacity="1" filter="url(#bh8)"/>
<line x1="108.60" y1="668.80" x2="136.80" y2="668.40" stroke="#0a0a0a" stroke-width="3.5" stroke-linecap="butt" opacity="1" filter="url(#bh8)"/>
<rect x="32.60" y="659.10" width="109.20" height="17.40" fill="none" stroke="#333333" stroke-width="1.15"/>
<text x="28.60" y="582.80" font-size="7.0" text-anchor="end" fill="#222" stroke="#222" stroke-width="0.16">kDa</text>
<text x="28.60" y="599.20" font-size="7.0" text-anchor="end" fill="#222" stroke="#222" stroke-width="0.16">125</text>
<text x="28.60" y="616.00" font-size="7.0" text-anchor="end" fill="#222" stroke="#222" stroke-width="0.16">125</text>
<text x="28.60" y="634.30" font-size="7.0" text-anchor="end" fill="#222" stroke="#222" stroke-width="0.16">125</text>
<text x="28.60" y="650.00" font-size="7.0" text-anchor="end" fill="#222" stroke="#222" stroke-width="0.16">125</text>
<text x="28.60" y="670.50" font-size="7.0" text-anchor="end" fill="#222" stroke="#222" stroke-width="0.16">37</text>
<text x="145.30" y="599.20" font-size="8.5" text-anchor="start" fill="#111" stroke="#111" stroke-width="0.16">p-FAK Y397</text>
<text x="145.30" y="615.60" font-size="8.5" text-anchor="start" fill="#111" stroke="#111" stroke-width="0.16">p-FAK Y576/577</text>
<text x="145.30" y="633.60" font-size="8.5" text-anchor="start" fill="#111" stroke="#111" stroke-width="0.16">p-FAK Y925</text>
<text x="145.30" y="652.00" font-size="8.5" text-anchor="start" fill="#111" stroke="#111" stroke-width="0.16">Total FAK</text>
<text x="145.30" y="672.70" font-size="8.5" text-anchor="start" fill="#111" stroke="#111" stroke-width="0.16">GAPDH</text>
<text x="56.40" y="582.30" font-size="8.5" fill="#111" stroke="#111" stroke-width="0.16" transform="rotate(-90 56.40 582.30)"><tspan font-style="italic">TTN</tspan> Wildtype</text>
<text x="91.80" y="582.30" font-size="8.5" fill="#111" stroke="#111" stroke-width="0.16" transform="rotate(-90 91.80 582.30)"><tspan font-style="italic">TTN</tspan> p.C5096R HET</text>
<text x="127.30" y="582.30" font-size="8.5" fill="#111" stroke="#111" stroke-width="0.16" transform="rotate(-90 127.30 582.30)"><tspan font-style="italic">TTN</tspan> p.C5096R HOM</text>
<line x1="252.30" y1="270.70" x2="252.30" y2="458.40" stroke="#8a8a8a" stroke-width="1"/>
<line x1="252.30" y1="458.40" x2="543.55" y2="458.40" stroke="#8a8a8a" stroke-width="1"/>
<line x1="248.80" y1="458.40" x2="252.30" y2="458.40" stroke="#8a8a8a" stroke-width="1"/>
<text x="245.70" y="461.40" font-size="6.9" text-anchor="end" fill="#222" stroke="#222" stroke-width="0.06">0.00</text>
<line x1="248.80" y1="437.60" x2="252.30" y2="437.60" stroke="#8a8a8a" stroke-width="1"/>
<text x="245.70" y="440.60" font-size="6.9" text-anchor="end" fill="#222" stroke="#222" stroke-width="0.06">0.20</text>
<line x1="248.80" y1="416.80" x2="252.30" y2="416.80" stroke="#8a8a8a" stroke-width="1"/>
<text x="245.70" y="419.80" font-size="6.9" text-anchor="end" fill="#222" stroke="#222" stroke-width="0.06">0.40</text>
<line x1="248.80" y1="396.00" x2="252.30" y2="396.00" stroke="#8a8a8a" stroke-width="1"/>
<text x="245.70" y="399.00" font-size="6.9" text-anchor="end" fill="#222" stroke="#222" stroke-width="0.06">0.60</text>
<line x1="248.80" y1="375.20" x2="252.30" y2="375.20" stroke="#8a8a8a" stroke-width="1"/>
<text x="245.70" y="378.20" font-size="6.9" text-anchor="end" fill="#222" stroke="#222" stroke-width="0.06">0.80</text>
<line x1="248.80" y1="354.40" x2="252.30" y2="354.40" stroke="#8a8a8a" stroke-width="1"/>
<text x="245.70" y="357.40" font-size="6.9" text-anchor="end" fill="#222" stroke="#222" stroke-width="0.06">1.00</text>
<line x1="248.80" y1="333.60" x2="252.30" y2="333.60" stroke="#8a8a8a" stroke-width="1"/>
<text x="245.70" y="336.60" font-size="6.9" text-anchor="end" fill="#222" stroke="#222" stroke-width="0.06">1.20</text>
<line x1="248.80" y1="312.80" x2="252.30" y2="312.80" stroke="#8a8a8a" stroke-width="1"/>
<text x="245.70" y="315.80" font-size="6.9" text-anchor="end" fill="#222" stroke="#222" stroke-width="0.06">1.40</text>
<line x1="248.80" y1="292.00" x2="252.30" y2="292.00" stroke="#8a8a8a" stroke-width="1"/>
<text x="245.70" y="295.00" font-size="6.9" text-anchor="end" fill="#222" stroke="#222" stroke-width="0.06">1.60</text>
<line x1="248.80" y1="271.20" x2="252.30" y2="271.20" stroke="#8a8a8a" stroke-width="1"/>
<text x="245.70" y="274.20" font-size="6.9" text-anchor="end" fill="#222" stroke="#222" stroke-width="0.06">1.80</text>
<line x1="252.30" y1="458.40" x2="252.30" y2="461.40" stroke="#8a8a8a" stroke-width="1"/>
<line x1="310.55" y1="458.40" x2="310.55" y2="461.40" stroke="#8a8a8a" stroke-width="1"/>
<line x1="368.80" y1="458.40" x2="368.80" y2="461.40" stroke="#8a8a8a" stroke-width="1"/>
<line x1="427.05" y1="458.40" x2="427.05" y2="461.40" stroke="#8a8a8a" stroke-width="1"/>
<line x1="485.30" y1="458.40" x2="485.30" y2="461.40" stroke="#8a8a8a" stroke-width="1"/>
<line x1="543.55" y1="458.40" x2="543.55" y2="461.40" stroke="#8a8a8a" stroke-width="1"/>
<text x="281.43" y="470.00" font-size="7.3" text-anchor="middle" fill="#222" stroke="#222" stroke-width="0.06">PTEN</text>
<rect x="263.10" y="354.40" width="10.60" height="104.00" fill="#151515"/>
<text x="271.03" y="450.80" font-size="7.3" text-anchor="start" fill="#ffffff" transform="rotate(-90 271.03 450.80)">1.00</text>
<rect x="276.60" y="381.94" width="9.60" height="76.46" fill="#808080" stroke="#383838" stroke-width="1.0"/>
<line x1="281.40" y1="376.66" x2="281.40" y2="386.22" stroke="#262626" stroke-width="1.1"/>
<line x1="278.20" y1="376.66" x2="284.60" y2="376.66" stroke="#8a8a8a" stroke-width="1.0"/>
<line x1="278.20" y1="386.22" x2="284.60" y2="386.22" stroke="#262626" stroke-width="1.0"/>
<text x="284.03" y="450.80" font-size="7.3" text-anchor="start" fill="#555555" transform="rotate(-90 284.03 450.80)">0.74</text>
<text x="281.40" y="377.20" font-size="10.3" text-anchor="middle" fill="#111" stroke="#111" stroke-width="0.16" font-weight="bold">*</text>
<rect x="289.50" y="386.10" width="9.60" height="72.30" fill="#d6d6d6" stroke="#383838" stroke-width="1.0"/>
<line x1="294.30" y1="378.11" x2="294.30" y2="393.09" stroke="#262626" stroke-width="1.1"/>
<line x1="291.10" y1="378.11" x2="297.50" y2="378.11" stroke="#8a8a8a" stroke-width="1.0"/>
<line x1="291.10" y1="393.09" x2="297.50" y2="393.09" stroke="#262626" stroke-width="1.0"/>
<text x="296.93" y="450.80" font-size="7.3" text-anchor="start" fill="#606060" transform="rotate(-90 296.93 450.80)">0.70</text>
<text x="294.30" y="378.40" font-size="10.3" text-anchor="middle" fill="#111" stroke="#111" stroke-width="0.16" font-weight="bold">*</text>
<text x="339.68" y="470.00" font-size="7.3" text-anchor="middle" fill="#222" stroke="#222" stroke-width="0.06">p-AKT S473</text>
<rect x="321.35" y="354.40" width="10.60" height="104.00" fill="#151515"/>
<text x="329.28" y="450.80" font-size="7.3" text-anchor="start" fill="#ffffff" transform="rotate(-90 329.28 450.80)">1.00</text>
<rect x="334.85" y="370.50" width="9.60" height="87.90" fill="#808080" stroke="#383838" stroke-width="1.0"/>
<line x1="339.65" y1="356.48" x2="339.65" y2="383.52" stroke="#262626" stroke-width="1.1"/>
<line x1="336.45" y1="356.48" x2="342.85" y2="356.48" stroke="#8a8a8a" stroke-width="1.0"/>
<line x1="336.45" y1="383.52" x2="342.85" y2="383.52" stroke="#262626" stroke-width="1.0"/>
<text x="342.28" y="450.80" font-size="7.3" text-anchor="start" fill="#555555" transform="rotate(-90 342.28 450.80)">0.85</text>
<rect x="347.75" y="385.06" width="9.60" height="73.34" fill="#d6d6d6" stroke="#383838" stroke-width="1.0"/>
<line x1="352.55" y1="379.36" x2="352.55" y2="389.76" stroke="#262626" stroke-width="1.1"/>
<line x1="349.35" y1="379.36" x2="355.75" y2="379.36" stroke="#8a8a8a" stroke-width="1.0"/>
<line x1="349.35" y1="389.76" x2="355.75" y2="389.76" stroke="#262626" stroke-width="1.0"/>
<text x="355.18" y="450.80" font-size="7.3" text-anchor="start" fill="#606060" transform="rotate(-90 355.18 450.80)">0.71</text>
<text x="352.55" y="379.30" font-size="10.3" text-anchor="middle" fill="#111" stroke="#111" stroke-width="0.16" font-weight="bold">*</text>
<text x="397.93" y="470.00" font-size="7.3" text-anchor="middle" fill="#222" stroke="#222" stroke-width="0.06">p-AKT T308</text>
<rect x="379.60" y="354.40" width="10.60" height="104.00" fill="#151515"/>
<text x="387.53" y="450.80" font-size="7.3" text-anchor="start" fill="#ffffff" transform="rotate(-90 387.53 450.80)">1.00</text>
<rect x="393.10" y="365.30" width="9.60" height="93.10" fill="#808080" stroke="#383838" stroke-width="1.0"/>
<line x1="397.90" y1="353.36" x2="397.90" y2="376.24" stroke="#262626" stroke-width="1.1"/>
<line x1="394.70" y1="353.36" x2="401.10" y2="353.36" stroke="#8a8a8a" stroke-width="1.0"/>
<line x1="394.70" y1="376.24" x2="401.10" y2="376.24" stroke="#262626" stroke-width="1.0"/>
<text x="400.53" y="450.80" font-size="7.3" text-anchor="start" fill="#555555" transform="rotate(-90 400.53 450.80)">0.90</text>
<rect x="406.00" y="387.14" width="9.60" height="71.26" fill="#d6d6d6" stroke="#383838" stroke-width="1.0"/>
<line x1="410.80" y1="385.60" x2="410.80" y2="387.68" stroke="#262626" stroke-width="1.1"/>
<line x1="407.60" y1="385.60" x2="414.00" y2="385.60" stroke="#8a8a8a" stroke-width="1.0"/>
<line x1="407.60" y1="387.68" x2="414.00" y2="387.68" stroke="#262626" stroke-width="1.0"/>
<text x="413.43" y="450.80" font-size="7.3" text-anchor="start" fill="#606060" transform="rotate(-90 413.43 450.80)">0.69</text>
<text x="410.20" y="385.40" font-size="10.3" text-anchor="middle" fill="#111" stroke="#111" stroke-width="0.16" font-weight="bold" letter-spacing="0.8">**</text>
<text x="456.18" y="470.00" font-size="7.3" text-anchor="middle" fill="#222" stroke="#222" stroke-width="0.06">pERK1</text>
<rect x="437.85" y="354.40" width="10.60" height="104.00" fill="#151515"/>
<text x="445.78" y="450.80" font-size="7.3" text-anchor="start" fill="#ffffff" transform="rotate(-90 445.78 450.80)">1.00</text>
<rect x="451.35" y="323.70" width="9.60" height="134.70" fill="#808080" stroke="#383838" stroke-width="1.0"/>
<line x1="456.15" y1="299.28" x2="456.15" y2="347.12" stroke="#9a9a9a" stroke-width="0.9"/>
<line x1="452.95" y1="299.28" x2="459.35" y2="299.28" stroke="#9a9a9a" stroke-width="1.0"/>
<line x1="452.95" y1="347.12" x2="459.35" y2="347.12" stroke="#8a8a8a" stroke-width="1.0"/>
<text x="458.78" y="450.80" font-size="7.3" text-anchor="start" fill="#555555" transform="rotate(-90 458.78 450.80)">1.30</text>
<rect x="464.25" y="401.70" width="9.60" height="56.70" fill="#d6d6d6" stroke="#383838" stroke-width="1.0"/>
<line x1="469.05" y1="388.72" x2="469.05" y2="413.68" stroke="#9a9a9a" stroke-width="0.9"/>
<line x1="465.85" y1="388.72" x2="472.25" y2="388.72" stroke="#9a9a9a" stroke-width="1.0"/>
<line x1="465.85" y1="413.68" x2="472.25" y2="413.68" stroke="#8a8a8a" stroke-width="1.0"/>
<text x="471.68" y="450.80" font-size="7.3" text-anchor="start" fill="#606060" transform="rotate(-90 471.68 450.80)">0.55</text>
<text x="514.42" y="470.00" font-size="7.3" text-anchor="middle" fill="#222" stroke="#222" stroke-width="0.06">pERK2</text>
<rect x="496.10" y="354.40" width="10.60" height="104.00" fill="#151515"/>
<text x="504.03" y="450.80" font-size="7.3" text-anchor="start" fill="#ffffff" transform="rotate(-90 504.03 450.80)">1.00</text>
<rect x="509.60" y="318.50" width="9.60" height="139.90" fill="#808080" stroke="#383838" stroke-width="1.0"/>
<line x1="514.40" y1="289.92" x2="514.40" y2="346.08" stroke="#9a9a9a" stroke-width="0.9"/>
<line x1="511.20" y1="289.92" x2="517.60" y2="289.92" stroke="#9a9a9a" stroke-width="1.0"/>
<line x1="511.20" y1="346.08" x2="517.60" y2="346.08" stroke="#8a8a8a" stroke-width="1.0"/>
<text x="517.03" y="450.80" font-size="7.3" text-anchor="start" fill="#555555" transform="rotate(-90 517.03 450.80)">1.35</text>
<rect x="522.50" y="401.70" width="9.60" height="56.70" fill="#d6d6d6" stroke="#383838" stroke-width="1.0"/>
<line x1="527.30" y1="386.64" x2="527.30" y2="415.76" stroke="#9a9a9a" stroke-width="0.9"/>
<line x1="524.10" y1="386.64" x2="530.50" y2="386.64" stroke="#9a9a9a" stroke-width="1.0"/>
<line x1="524.10" y1="415.76" x2="530.50" y2="415.76" stroke="#8a8a8a" stroke-width="1.0"/>
<text x="529.93" y="450.80" font-size="7.3" text-anchor="start" fill="#606060" transform="rotate(-90 529.93 450.80)">0.55</text>
<rect x="268.80" y="246.10" width="3.90" height="4.20" fill="#151515"/>
<text x="273.50" y="251.10" font-size="7.5" text-anchor="start" fill="#222" stroke="#222" stroke-width="0.08">TTN Wildtype</text>
<rect x="332.15" y="246.55" width="3.10" height="3.30" fill="#808080" stroke="#333" stroke-width="0.9"/>
<text x="336.40" y="251.10" font-size="7.5" text-anchor="start" fill="#222" stroke="#222" stroke-width="0.08">TTN p.C5096R HET</text>
<rect x="417.75" y="246.55" width="3.10" height="3.30" fill="#d6d6d6" stroke="#333" stroke-width="0.9"/>
<text x="422.00" y="251.10" font-size="7.5" text-anchor="start" fill="#222" stroke="#222" stroke-width="0.08">TTN p.C5096R HOM</text>
<text x="225.10" y="364.00" font-size="9.7" text-anchor="middle" fill="#222" stroke="#222" stroke-width="0.16" transform="rotate(-90 225.10 364.00)">Fold change relative to wildtype</text>
<line x1="252.00" y1="526.00" x2="252.00" y2="672.00" stroke="#8a8a8a" stroke-width="1"/>
<line x1="252.00" y1="672.00" x2="543.60" y2="672.00" stroke="#8a8a8a" stroke-width="1"/>
<line x1="248.50" y1="672.00" x2="252.00" y2="672.00" stroke="#8a8a8a" stroke-width="1"/>
<text x="245.40" y="675.00" font-size="7.6" text-anchor="end" fill="#222" stroke="#222" stroke-width="0.06">0.00</text>
<line x1="248.50" y1="647.75" x2="252.00" y2="647.75" stroke="#8a8a8a" stroke-width="1"/>
<text x="245.40" y="650.75" font-size="7.6" text-anchor="end" fill="#222" stroke="#222" stroke-width="0.06">0.50</text>
<line x1="248.50" y1="623.50" x2="252.00" y2="623.50" stroke="#8a8a8a" stroke-width="1"/>
<text x="245.40" y="626.50" font-size="7.6" text-anchor="end" fill="#222" stroke="#222" stroke-width="0.06">1.00</text>
<line x1="248.50" y1="599.25" x2="252.00" y2="599.25" stroke="#8a8a8a" stroke-width="1"/>
<text x="245.40" y="602.25" font-size="7.6" text-anchor="end" fill="#222" stroke="#222" stroke-width="0.06">1.50</text>
<line x1="248.50" y1="575.00" x2="252.00" y2="575.00" stroke="#8a8a8a" stroke-width="1"/>
<text x="245.40" y="578.00" font-size="7.6" text-anchor="end" fill="#222" stroke="#222" stroke-width="0.06">2.00</text>
<line x1="248.50" y1="550.75" x2="252.00" y2="550.75" stroke="#8a8a8a" stroke-width="1"/>
<text x="245.40" y="553.75" font-size="7.6" text-anchor="end" fill="#222" stroke="#222" stroke-width="0.06">2.50</text>
<line x1="248.50" y1="526.50" x2="252.00" y2="526.50" stroke="#8a8a8a" stroke-width="1"/>
<text x="245.40" y="529.50" font-size="7.6" text-anchor="end" fill="#222" stroke="#222" stroke-width="0.06">3.00</text>
<line x1="252.00" y1="672.00" x2="252.00" y2="675.00" stroke="#8a8a8a" stroke-width="1"/>
<line x1="324.90" y1="672.00" x2="324.90" y2="675.00" stroke="#8a8a8a" stroke-width="1"/>
<line x1="397.80" y1="672.00" x2="397.80" y2="675.00" stroke="#8a8a8a" stroke-width="1"/>
<line x1="470.70" y1="672.00" x2="470.70" y2="675.00" stroke="#8a8a8a" stroke-width="1"/>
<line x1="543.60" y1="672.00" x2="543.60" y2="675.00" stroke="#8a8a8a" stroke-width="1"/>
<text x="288.45" y="683.30" font-size="7.5" text-anchor="middle" fill="#222" stroke="#222" stroke-width="0.06">p-FAK Y397</text>
<rect x="265.90" y="623.50" width="13.50" height="48.50" fill="#151515"/>
<text x="275.35" y="665.50" font-size="7.5" text-anchor="start" fill="#ffffff" transform="rotate(-90 275.35 665.50)">1.00</text>
<rect x="282.10" y="615.27" width="12.50" height="56.73" fill="#808080" stroke="#383838" stroke-width="1.0"/>
<line x1="288.35" y1="610.40" x2="288.35" y2="619.13" stroke="#7a7a7a" stroke-width="1.0"/>
<line x1="285.15" y1="610.40" x2="291.55" y2="610.40" stroke="#a0a0a0" stroke-width="1.0"/>
<line x1="285.15" y1="619.13" x2="291.55" y2="619.13" stroke="#8a8a8a" stroke-width="1.0"/>
<text x="291.05" y="665.50" font-size="7.5" text-anchor="start" fill="#555555" transform="rotate(-90 291.05 665.50)">1.18</text>
<rect x="298.50" y="614.78" width="12.50" height="57.22" fill="#d6d6d6" stroke="#383838" stroke-width="1.0"/>
<line x1="304.75" y1="600.71" x2="304.75" y2="627.87" stroke="#7a7a7a" stroke-width="1.0"/>
<line x1="301.55" y1="600.71" x2="307.95" y2="600.71" stroke="#a0a0a0" stroke-width="1.0"/>
<line x1="301.55" y1="627.87" x2="307.95" y2="627.87" stroke="#8a8a8a" stroke-width="1.0"/>
<text x="307.45" y="665.50" font-size="7.5" text-anchor="start" fill="#606060" transform="rotate(-90 307.45 665.50)">1.19</text>
<text x="361.35" y="683.30" font-size="7.5" text-anchor="middle" fill="#222" stroke="#222" stroke-width="0.06">p-FAK Y576/577</text>
<rect x="338.80" y="623.50" width="13.50" height="48.50" fill="#151515"/>
<text x="348.25" y="665.50" font-size="7.5" text-anchor="start" fill="#ffffff" transform="rotate(-90 348.25 665.50)">1.00</text>
<rect x="355.00" y="621.09" width="12.50" height="50.91" fill="#808080" stroke="#383838" stroke-width="1.0"/>
<line x1="361.25" y1="617.19" x2="361.25" y2="623.99" stroke="#7a7a7a" stroke-width="1.0"/>
<line x1="358.05" y1="617.19" x2="364.45" y2="617.19" stroke="#a0a0a0" stroke-width="1.0"/>
<line x1="358.05" y1="623.99" x2="364.45" y2="623.99" stroke="#8a8a8a" stroke-width="1.0"/>
<text x="363.95" y="665.50" font-size="7.5" text-anchor="start" fill="#555555" transform="rotate(-90 363.95 665.50)">1.06</text>
<rect x="371.40" y="595.87" width="12.50" height="76.13" fill="#d6d6d6" stroke="#383838" stroke-width="1.0"/>
<line x1="377.65" y1="593.67" x2="377.65" y2="597.07" stroke="#7a7a7a" stroke-width="1.0"/>
<line x1="374.45" y1="593.67" x2="380.85" y2="593.67" stroke="#a0a0a0" stroke-width="1.0"/>
<line x1="374.45" y1="597.07" x2="380.85" y2="597.07" stroke="#8a8a8a" stroke-width="1.0"/>
<text x="380.35" y="665.50" font-size="7.5" text-anchor="start" fill="#606060" transform="rotate(-90 380.35 665.50)">1.58</text>
<text x="377.65" y="594.40" font-size="10.3" text-anchor="middle" fill="#111" stroke="#111" stroke-width="0.16" font-weight="bold">*</text>
<text x="434.25" y="683.30" font-size="7.5" text-anchor="middle" fill="#222" stroke="#222" stroke-width="0.06">p-FAK Y925</text>
<rect x="411.70" y="623.50" width="13.50" height="48.50" fill="#151515"/>
<text x="421.15" y="665.50" font-size="7.5" text-anchor="start" fill="#ffffff" transform="rotate(-90 421.15 665.50)">1.00</text>
<rect x="427.90" y="619.63" width="12.50" height="52.37" fill="#808080" stroke="#383838" stroke-width="1.0"/>
<line x1="434.15" y1="608.47" x2="434.15" y2="629.80" stroke="#7a7a7a" stroke-width="1.0"/>
<line x1="430.95" y1="608.47" x2="437.35" y2="608.47" stroke="#a0a0a0" stroke-width="1.0"/>
<line x1="430.95" y1="629.80" x2="437.35" y2="629.80" stroke="#8a8a8a" stroke-width="1.0"/>
<text x="436.85" y="665.50" font-size="7.5" text-anchor="start" fill="#555555" transform="rotate(-90 436.85 665.50)">1.09</text>
<rect x="444.30" y="576.47" width="12.50" height="95.53" fill="#d6d6d6" stroke="#383838" stroke-width="1.0"/>
<line x1="450.55" y1="535.72" x2="450.55" y2="616.23" stroke="#7a7a7a" stroke-width="1.0"/>
<line x1="447.35" y1="535.72" x2="453.75" y2="535.72" stroke="#a0a0a0" stroke-width="1.0"/>
<line x1="447.35" y1="616.23" x2="453.75" y2="616.23" stroke="#8a8a8a" stroke-width="1.0"/>
<text x="453.25" y="665.50" font-size="7.5" text-anchor="start" fill="#606060" transform="rotate(-90 453.25 665.50)">1.98</text>
<text x="507.15" y="683.30" font-size="7.5" text-anchor="middle" fill="#222" stroke="#222" stroke-width="0.06">Total FAK</text>
<rect x="484.60" y="623.50" width="13.50" height="48.50" fill="#151515"/>
<text x="494.05" y="665.50" font-size="7.5" text-anchor="start" fill="#ffffff" transform="rotate(-90 494.05 665.50)">1.00</text>
<rect x="500.80" y="612.36" width="12.50" height="59.64" fill="#808080" stroke="#383838" stroke-width="1.0"/>
<line x1="507.05" y1="609.92" x2="507.05" y2="613.80" stroke="#7a7a7a" stroke-width="1.0"/>
<line x1="503.85" y1="609.92" x2="510.25" y2="609.92" stroke="#a0a0a0" stroke-width="1.0"/>
<line x1="503.85" y1="613.80" x2="510.25" y2="613.80" stroke="#8a8a8a" stroke-width="1.0"/>
<text x="509.75" y="665.50" font-size="7.5" text-anchor="start" fill="#555555" transform="rotate(-90 509.75 665.50)">1.24</text>
<text x="507.05" y="612.90" font-size="10.3" text-anchor="middle" fill="#111" stroke="#111" stroke-width="0.16" font-weight="bold">*</text>
<rect x="517.20" y="628.85" width="12.50" height="43.15" fill="#d6d6d6" stroke="#383838" stroke-width="1.0"/>
<line x1="523.45" y1="625.44" x2="523.45" y2="631.26" stroke="#7a7a7a" stroke-width="1.0"/>
<line x1="520.25" y1="625.44" x2="526.65" y2="625.44" stroke="#a0a0a0" stroke-width="1.0"/>
<line x1="520.25" y1="631.26" x2="526.65" y2="631.26" stroke="#8a8a8a" stroke-width="1.0"/>
<text x="526.15" y="665.50" font-size="7.5" text-anchor="start" fill="#606060" transform="rotate(-90 526.15 665.50)">0.90</text>
<rect x="269.50" y="502.90" width="3.90" height="4.20" fill="#151515"/>
<text x="274.20" y="507.90" font-size="7.35" text-anchor="start" fill="#222" stroke="#222" stroke-width="0.08">TTN Wildtype</text>
<rect x="332.85" y="503.35" width="3.10" height="3.30" fill="#808080" stroke="#333" stroke-width="0.9"/>
<text x="337.10" y="507.90" font-size="7.35" text-anchor="start" fill="#222" stroke="#222" stroke-width="0.08">TTN p.C5096R HET</text>
<rect x="418.05" y="503.35" width="3.10" height="3.30" fill="#d6d6d6" stroke="#333" stroke-width="0.9"/>
<text x="422.30" y="507.90" font-size="7.35" text-anchor="start" fill="#222" stroke="#222" stroke-width="0.08">TTN p.C5096R HOM</text>
<text x="226.50" y="599.50" font-size="9.7" text-anchor="middle" fill="#222" stroke="#222" stroke-width="0.16" transform="rotate(-90 226.50 599.50)">Fold change relative to wildtype</text>
</svg>
</body></html>
